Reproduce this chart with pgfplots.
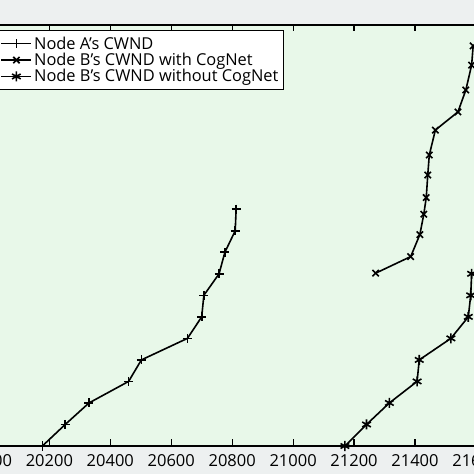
\documentclass[border=0pt]{standalone}
\usepackage{fontspec}
\setmainfont{Open Sans}
\usepackage{pgfplots}
\pgfplotsset{compat=1.18}
\usetikzlibrary{backgrounds}
\definecolor{plotbg}{RGB}{232,248,233}
\definecolor{outerbg}{RGB}{237,240,240}
\begin{document}
\begin{tikzpicture}
\begin{axis}[
  width=609.3bp, height=421bp, scale only axis,
  xmin=19800, xmax=21800, ymin=0, ymax=19.56,
  xtick={19800,20000,...,21800},
  xticklabels={19800,20000,20200,20400,20600,20800,21000,21200,21400,21600,21800},
  ytick=\empty,
  axis background/.style={fill=plotbg},
  axis line style={line width=1.2bp},
  major tick length=6.5bp,
  tick style={line width=1.2bp, black},
  tick label style={font=\fontsize{16.5bp}{18bp}\selectfont},
  xticklabel style={yshift=-5bp},
  clip=false,
  legend image code/.code={\draw[mark repeat=2,mark phase=2] plot coordinates {(0bp,0bp) (15bp,0bp) (30bp,0bp)};},
  legend style={at={(0.5851,1)}, yshift=-5bp, anchor=north east, draw=black, line width=1.2bp,
    fill=white, font=\fontsize{16.4bp}{16.5bp}\selectfont, row sep=-1.5bp, inner ysep=4bp},
  legend cell align=left,
]
\addplot[black, line width=1.6bp, mark=+, mark size=4.5bp, mark options={solid}] coordinates {
(20177,0) (20252,1) (20330,2) (20460,3) (20502,4) (20653,5)
(20700,6) (20707,7) (20757,8) (20776,9) (20810,10) (20813,11)};
\addlegendentry{Node A’s CWND}
\addplot[black, line width=1.6bp, mark=x, mark size=4.5bp, mark options={solid}] coordinates {
(21271,8.03) (21386,8.80) (21416,9.82) (21429,10.77) (21437,11.54) (21442,12.59)
(21447,13.52) (21467,14.68) (21541,15.52) (21567,16.54) (21586,17.70) (21591,18.59)};
\addlegendentry{Node B’s CWND with CogNet}
\addplot[black, line width=1.6bp, mark=asterisk, mark size=5bp, mark options={solid}] coordinates {
(21170,0) (21241,1) (21316,2) (21407,3) (21414,4) (21518,5)
(21575,6) (21583,7) (21586,8)};
\addlegendentry{Node B’s CWND without CogNet}
\coordinate (BL) at (axis cs:20037.9,0);
\coordinate (TR) at (axis cs:21593.7,19.56);
\end{axis}
\begin{scope}[on background layer]
\fill[outerbg] ([yshift=-28bp]BL) rectangle ([yshift=25bp]TR);
\end{scope}
\pgfresetboundingbox
\path[use as bounding box] ([yshift=-28bp]BL) rectangle ([yshift=25bp]TR);
\end{tikzpicture}
\end{document}
